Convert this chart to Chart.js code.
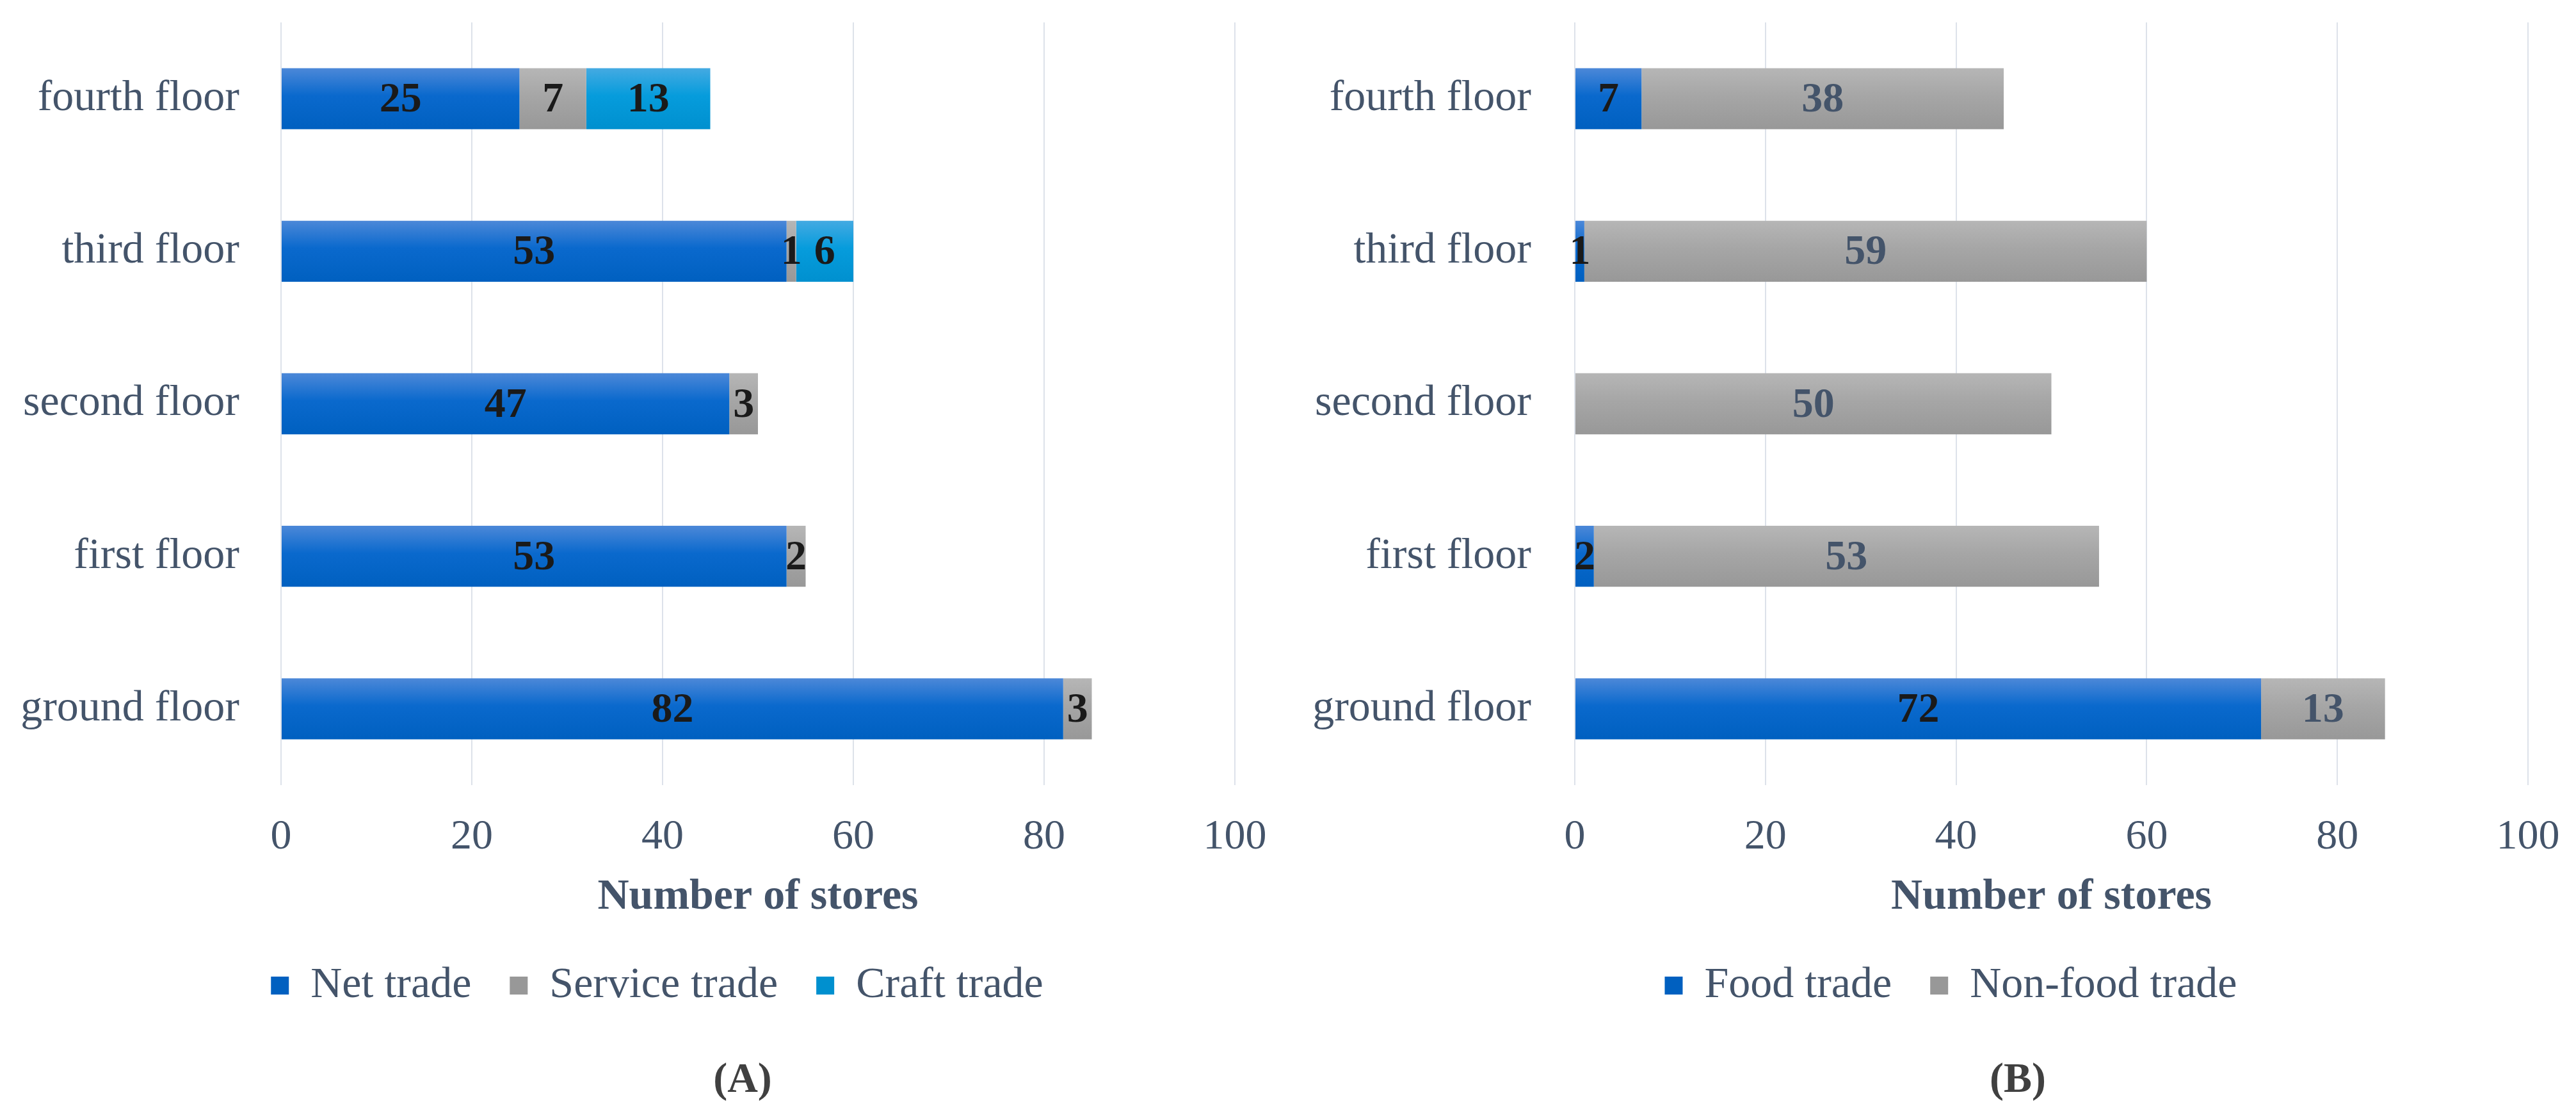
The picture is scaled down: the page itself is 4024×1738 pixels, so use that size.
<!DOCTYPE html>
<html>
<head>
<meta charset="utf-8">
<script src="https://cdn.jsdelivr.net/npm/chart.js@4.4.1/dist/chart.umd.min.js"></script>
<style>
  body { margin: 0; background: #fff; }
  #wrap { position: relative; width: 4024px; height: 1738px; }
  canvas { position: absolute; top: 0; }
  .panel { position: absolute; font-family: 'Liberation Serif', serif; font-weight: bold;
           font-size: 66px; color: #404040; line-height: 1; transform: translate(-50%, -50%); }
</style>
</head>
<body>
<div id="wrap">
  <canvas id="chartA" width="2012" height="1738" style="left:0"></canvas>
  <canvas id="chartB" width="2012" height="1738" style="left:2012px"></canvas>
  <div class="panel" style="left:1160px; top:1683px">(A)</div>
  <div class="panel" style="left:3152px; top:1683px">(B)</div>
</div>
<script>
// Data (bottom to top: ground floor .. fourth floor)
const floors = ['ground floor', 'first floor', 'second floor', 'third floor', 'fourth floor'];
const netTrade = [82, 53, 47, 53, 25];
const serviceTrade = [3, 2, 3, 1, 7];
const craftTrade = [0, 0, 0, 6, 13];
const foodTrade = [72, 2, 0, 1, 7];
const nonFoodTrade = [13, 53, 50, 59, 38];
const xTicks = [0, 20, 40, 60, 80, 100];

const FONT = 'Liberation Serif';
const TEXT = '#44546A';

// colour stops for the Excel-like gradient fill (top -> bottom)
const blueStops = ['#4C88D8', '#0A69CD', '#0060C0'];
const grayStops = ['#B6B6B6', '#A6A6A6', '#989898'];
const cyanStops = ['#44AAE2', '#069CDC', '#0090CF'];

function gradientFill(stops) {
  return function (ctx) {
    const chart = ctx.chart;
    if (ctx.type !== 'data' || !chart.chartArea) return stops[1];
    const y = chart.scales.y.getPixelForValue(ctx.dataIndex);
    const half = chart.chartArea.height / floors.length * 0.4 / 2;
    if (!isFinite(y)) return stops[1];
    const g = chart.ctx.createLinearGradient(0, y - half, 0, y + half);
    g.addColorStop(0, stops[0]);
    g.addColorStop(0.45, stops[1]);
    g.addColorStop(1, stops[2]);
    return g;
  };
}

// draws the value in the middle of every non-zero segment
const barValues = {
  id: 'barValues',
  afterDatasetsDraw(chart) {
    const c = chart.ctx;
    c.save();
    c.font = 'bold 66px "' + FONT + '"';
    c.textAlign = 'center';
    c.textBaseline = 'middle';
    chart.data.datasets.forEach((ds, i) => {
      const meta = chart.getDatasetMeta(i);
      if (meta.hidden) return;
      c.fillStyle = ds.valueColor;
      meta.data.forEach((bar, j) => {
        const v = ds.data[j];
        if (!v) return;
        c.fillText(String(v), (bar.x + bar.base) / 2, bar.y + 3);
      });
    });
    c.restore();
  }
};

// nudges the legend sideways so it sits where Excel put it
const legendShift = {
  id: 'legendShift',
  afterLayout(chart, args, opts) {
    const lg = chart.legend;
    if (!lg) return;
    lg.left += opts.dx;
    lg.right += opts.dx;
  }
};

function makeOptions(yWidth, labelPad, rightPad, legendDx) {
  return {
    indexAxis: 'y',
    responsive: false,
    animation: false,
    layout: { padding: { left: 0, right: rightPad, top: 35, bottom: 155 } },
    datasets: { bar: { categoryPercentage: 1, barPercentage: 0.4 } },
    plugins: {
      tooltip: { enabled: false },
      legendShift: { dx: legendDx },
      legend: {
        position: 'bottom',
        labels: {
          color: TEXT,
          font: { family: FONT, size: 68 },
          boxWidth: 28,
          boxHeight: 28,
          padding: 60
        }
      }
    },
    scales: {
      x: {
        stacked: true,
        min: 0,
        max: 100,
        afterBuildTicks: (s) => { s.ticks = xTicks.map(v => ({ value: v })); },
        afterFit: (s) => { s.height = 219; s.paddingLeft = 0; s.paddingRight = 0; },
        grid: { color: '#DDE2EA', lineWidth: 2, drawTicks: false },
        border: { display: false },
        ticks: { color: TEXT, font: { family: FONT, size: 66 }, padding: 42 },
        title: {
          display: true,
          text: 'Number of stores',
          color: TEXT,
          font: { family: FONT, size: 68, weight: 'bold' },
          padding: { top: 0, bottom: 3 }
        }
      },
      y: {
        stacked: true,
        reverse: true,
        afterFit: (s) => { s.width = yWidth; s.paddingTop = 0; s.paddingBottom = 0; },
        grid: { display: false },
        border: { display: false },
        ticks: { color: TEXT, font: { family: FONT, size: 68 }, padding: labelPad }
      }
    }
  };
}

new Chart(document.getElementById('chartA'), {
  type: 'bar',
  data: {
    labels: floors,
    datasets: [
      { label: 'Net trade', data: netTrade, backgroundColor: gradientFill(blueStops), valueColor: '#1A1A1A' },
      { label: 'Service trade', data: serviceTrade, backgroundColor: gradientFill(grayStops), valueColor: '#1A1A1A' },
      { label: 'Craft trade', data: craftTrade, backgroundColor: gradientFill(cyanStops), valueColor: '#1A1A1A' }
    ]
  },
  options: makeOptions(439, 57, 83, 62),
  plugins: [barValues, legendShift]
});

new Chart(document.getElementById('chartB'), {
  type: 'bar',
  data: {
    labels: floors,
    datasets: [
      { label: 'Food trade', data: foodTrade, backgroundColor: gradientFill(blueStops), valueColor: '#1A1A1A' },
      { label: 'Non-food trade', data: nonFoodTrade, backgroundColor: gradientFill(grayStops), valueColor: TEXT }
    ]
  },
  options: makeOptions(448, 60, 75, 67),
  plugins: [barValues, legendShift]
});
</script>
</body>
</html>
